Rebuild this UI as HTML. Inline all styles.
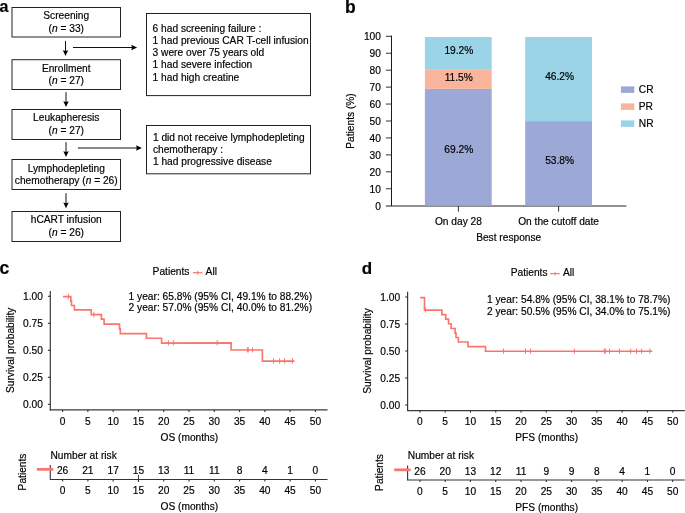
<!DOCTYPE html>
<html><head><meta charset="utf-8"><style>
html,body{margin:0;padding:0;background:#fff;}
body{width:685px;height:513px;overflow:hidden;}
svg{display:block;font-family:"Liberation Sans", sans-serif;will-change:transform;} text{fill:#000;stroke:#000;stroke-width:0.18px;font-size:10.2px;}
</style></head><body>
<svg width="685" height="513" viewBox="0 0 685 513">
<text x="-0.40" y="11.50" style="font-size:16px" font-weight="bold">a</text>
<rect x="12.00" y="7.50" width="108.50" height="29.50" fill="none" stroke="#222" stroke-width="1.0"/>
<text x="66.25" y="19.10" text-anchor="middle">Screening</text>
<text x="66.25" y="31.70" text-anchor="middle">(<tspan font-style="italic">n</tspan> = 33)</text>
<rect x="12.00" y="59.70" width="108.50" height="29.80" fill="none" stroke="#222" stroke-width="1.0"/>
<text x="66.25" y="72.00" text-anchor="middle">Enrollment</text>
<text x="66.25" y="84.20" text-anchor="middle">(<tspan font-style="italic">n</tspan> = 27)</text>
<rect x="12.00" y="109.50" width="108.50" height="30.00" fill="none" stroke="#222" stroke-width="1.0"/>
<text x="66.25" y="121.20" text-anchor="middle">Leukapheresis</text>
<text x="66.25" y="134.20" text-anchor="middle">(<tspan font-style="italic">n</tspan> = 27)</text>
<rect x="12.00" y="159.50" width="108.50" height="30.00" fill="none" stroke="#222" stroke-width="1.0"/>
<text x="66.25" y="171.60" text-anchor="middle">Lymphodepleting</text>
<text x="66.25" y="184.20" text-anchor="middle">chemotherapy (<tspan font-style="italic">n</tspan> = 26)</text>
<rect x="12.00" y="211.50" width="108.50" height="30.00" fill="none" stroke="#222" stroke-width="1.0"/>
<text x="66.25" y="223.20" text-anchor="middle">hCART infusion</text>
<text x="66.25" y="236.20" text-anchor="middle">(<tspan font-style="italic">n</tspan> = 26)</text>
<line x1="65.50" y1="40.90" x2="65.50" y2="51.30" stroke="#111" stroke-width="1"/>
<path d="M65.5,56.0 L62.8,50.199999999999996 L65.5,50.9 L68.2,50.199999999999996 Z" fill="#000"/>
<line x1="66.00" y1="92.20" x2="66.00" y2="102.30" stroke="#111" stroke-width="1"/>
<path d="M66.0,107.0 L63.3,101.2 L66.0,101.89999999999999 L68.7,101.2 Z" fill="#000"/>
<line x1="66.00" y1="142.20" x2="66.00" y2="152.30" stroke="#111" stroke-width="1"/>
<path d="M66.0,157.0 L63.3,151.20000000000002 L66.0,151.9 L68.7,151.20000000000002 Z" fill="#000"/>
<line x1="66.00" y1="193.20" x2="66.00" y2="203.60" stroke="#111" stroke-width="1"/>
<path d="M66.0,208.29999999999998 L63.3,202.5 L66.0,203.2 L68.7,202.5 Z" fill="#000"/>
<line x1="73.00" y1="47.50" x2="132.40" y2="47.50" stroke="#111" stroke-width="1"/>
<path d="M137.1,47.5 L131.3,44.8 L132.0,47.5 L131.3,50.2 Z" fill="#000"/>
<line x1="77.90" y1="148.00" x2="137.20" y2="148.00" stroke="#111" stroke-width="1"/>
<path d="M141.89999999999998,148.0 L136.1,145.3 L136.79999999999998,148.0 L136.1,150.7 Z" fill="#000"/>
<rect x="146.50" y="13.50" width="164.00" height="82.10" fill="none" stroke="#222" stroke-width="1.0"/>
<text x="152.60" y="32.00">6 had screening failure :</text>
<text x="152.60" y="44.13">1 had previous CAR T-cell infusion</text>
<text x="152.60" y="56.26">3 were over 75 years old</text>
<text x="152.60" y="68.39">1 had severe infection</text>
<text x="152.60" y="80.52">1 had high creatine</text>
<rect x="146.50" y="125.50" width="164.00" height="48.30" fill="none" stroke="#222" stroke-width="1.0"/>
<text x="152.90" y="141.10">1 did not receive lymphodepleting</text>
<text x="152.90" y="153.20">chemotherapy :</text>
<text x="152.90" y="165.30">1 had progressive disease</text>
<text x="345.10" y="12.55" style="font-size:17.5px" font-weight="bold">b</text>
<line x1="391.50" y1="35.60" x2="391.50" y2="206.00" stroke="#1a1a1a" stroke-width="1.0"/>
<text x="380.90" y="209.50" text-anchor="end">0</text>
<line x1="385.90" y1="188.76" x2="391.50" y2="188.76" stroke="#333" stroke-width="1.0"/>
<text x="380.90" y="192.56" text-anchor="end">10</text>
<line x1="385.90" y1="171.82" x2="391.50" y2="171.82" stroke="#333" stroke-width="1.0"/>
<text x="380.90" y="175.62" text-anchor="end">20</text>
<line x1="385.90" y1="154.88" x2="391.50" y2="154.88" stroke="#333" stroke-width="1.0"/>
<text x="380.90" y="158.68" text-anchor="end">30</text>
<line x1="385.90" y1="137.94" x2="391.50" y2="137.94" stroke="#333" stroke-width="1.0"/>
<text x="380.90" y="141.74" text-anchor="end">40</text>
<line x1="385.90" y1="121.00" x2="391.50" y2="121.00" stroke="#333" stroke-width="1.0"/>
<text x="380.90" y="124.80" text-anchor="end">50</text>
<line x1="385.90" y1="104.06" x2="391.50" y2="104.06" stroke="#333" stroke-width="1.0"/>
<text x="380.90" y="107.86" text-anchor="end">60</text>
<line x1="385.90" y1="87.12" x2="391.50" y2="87.12" stroke="#333" stroke-width="1.0"/>
<text x="380.90" y="90.92" text-anchor="end">70</text>
<line x1="385.90" y1="70.18" x2="391.50" y2="70.18" stroke="#333" stroke-width="1.0"/>
<text x="380.90" y="73.98" text-anchor="end">80</text>
<line x1="385.90" y1="53.24" x2="391.50" y2="53.24" stroke="#333" stroke-width="1.0"/>
<text x="380.90" y="57.04" text-anchor="end">90</text>
<line x1="385.90" y1="36.30" x2="391.50" y2="36.30" stroke="#333" stroke-width="1.0"/>
<text x="380.90" y="40.10" text-anchor="end">100</text>
<line x1="385.90" y1="206.00" x2="626.40" y2="206.00" stroke="#222" stroke-width="1.0"/>
<line x1="458.40" y1="206.00" x2="458.40" y2="211.60" stroke="#333" stroke-width="1.0"/>
<line x1="558.60" y1="206.00" x2="558.60" y2="211.60" stroke="#333" stroke-width="1.0"/>
<rect x="424.90" y="88.90" width="66.80" height="116.70" fill="#9CA8D5" stroke="none" stroke-width="1"/>
<rect x="424.90" y="69.20" width="66.80" height="19.70" fill="#F9B59B" stroke="none" stroke-width="1"/>
<rect x="424.90" y="37.00" width="66.80" height="32.20" fill="#9BD4E6" stroke="none" stroke-width="1"/>
<rect x="525.20" y="121.10" width="66.80" height="84.50" fill="#9CA8D5" stroke="none" stroke-width="1"/>
<rect x="525.20" y="37.00" width="66.80" height="84.10" fill="#9BD4E6" stroke="none" stroke-width="1"/>
<text x="458.90" y="54.20" text-anchor="middle">19.2%</text>
<text x="458.70" y="80.80" text-anchor="middle">11.5%</text>
<text x="458.80" y="153.40" text-anchor="middle">69.2%</text>
<text x="559.60" y="79.70" text-anchor="middle">46.2%</text>
<text x="559.60" y="164.10" text-anchor="middle">53.8%</text>
<rect x="620.90" y="86.40" width="13.40" height="6.50" fill="#9CA8D5" stroke="none" stroke-width="1"/>
<text x="638.80" y="93.20">CR</text>
<rect x="620.90" y="103.40" width="13.40" height="6.50" fill="#F9B59B" stroke="none" stroke-width="1"/>
<text x="638.80" y="110.20">PR</text>
<rect x="620.90" y="120.40" width="13.40" height="6.50" fill="#9BD4E6" stroke="none" stroke-width="1"/>
<text x="638.80" y="127.20">NR</text>
<text x="458.40" y="224.70" text-anchor="middle">On day 28</text>
<text x="558.60" y="224.70" text-anchor="middle">On the cutoff date</text>
<text x="508.70" y="240.50" text-anchor="middle">Best response</text>
<text transform="translate(354.3,121) rotate(-90)" font-size="10.2" text-anchor="middle" fill="#000">Patients (%)</text>
<text x="-0.60" y="274.00" style="font-size:17.5px" font-weight="bold">c</text>
<text x="152.60" y="275.20">Patients</text>
<line x1="192.80" y1="272.70" x2="202.50" y2="272.70" stroke="#F8766D" stroke-width="1.2"/>
<line x1="197.70" y1="270.90" x2="197.70" y2="274.60" stroke="#F8766D" stroke-width="1.0"/>
<text x="205.60" y="275.20">All</text>
<text x="128.60" y="299.60">1 year: 65.8% (95% CI, 49.1% to 88.2%)</text>
<text x="128.60" y="311.20">2 year: 57.0% (95% CI, 40.0% to 81.2%)</text>
<line x1="50.30" y1="291.10" x2="50.30" y2="410.40" stroke="#3a3a3a" stroke-width="1.2"/>
<line x1="49.70" y1="409.90" x2="327.50" y2="409.90" stroke="#3a3a3a" stroke-width="1.1"/>
<line x1="47.90" y1="404.30" x2="50.30" y2="404.30" stroke="#333" stroke-width="1.1"/>
<text x="42.90" y="407.90" text-anchor="end">0.00</text>
<line x1="47.90" y1="377.30" x2="50.30" y2="377.30" stroke="#333" stroke-width="1.1"/>
<text x="42.90" y="380.90" text-anchor="end">0.25</text>
<line x1="47.90" y1="350.30" x2="50.30" y2="350.30" stroke="#333" stroke-width="1.1"/>
<text x="42.90" y="353.90" text-anchor="end">0.50</text>
<line x1="47.90" y1="323.30" x2="50.30" y2="323.30" stroke="#333" stroke-width="1.1"/>
<text x="42.90" y="326.90" text-anchor="end">0.75</text>
<line x1="47.90" y1="296.30" x2="50.30" y2="296.30" stroke="#333" stroke-width="1.1"/>
<text x="42.90" y="299.90" text-anchor="end">1.00</text>
<line x1="62.60" y1="409.90" x2="62.60" y2="411.90" stroke="#333" stroke-width="1.1"/>
<text x="62.60" y="424.50" text-anchor="middle">0</text>
<line x1="87.88" y1="409.90" x2="87.88" y2="411.90" stroke="#333" stroke-width="1.1"/>
<text x="87.88" y="424.50" text-anchor="middle">5</text>
<line x1="113.16" y1="409.90" x2="113.16" y2="411.90" stroke="#333" stroke-width="1.1"/>
<text x="113.16" y="424.50" text-anchor="middle">10</text>
<line x1="138.44" y1="409.90" x2="138.44" y2="411.90" stroke="#333" stroke-width="1.1"/>
<text x="138.44" y="424.50" text-anchor="middle">15</text>
<line x1="163.72" y1="409.90" x2="163.72" y2="411.90" stroke="#333" stroke-width="1.1"/>
<text x="163.72" y="424.50" text-anchor="middle">20</text>
<line x1="189.00" y1="409.90" x2="189.00" y2="411.90" stroke="#333" stroke-width="1.1"/>
<text x="189.00" y="424.50" text-anchor="middle">25</text>
<line x1="214.28" y1="409.90" x2="214.28" y2="411.90" stroke="#333" stroke-width="1.1"/>
<text x="214.28" y="424.50" text-anchor="middle">30</text>
<line x1="239.56" y1="409.90" x2="239.56" y2="411.90" stroke="#333" stroke-width="1.1"/>
<text x="239.56" y="424.50" text-anchor="middle">35</text>
<line x1="264.84" y1="409.90" x2="264.84" y2="411.90" stroke="#333" stroke-width="1.1"/>
<text x="264.84" y="424.50" text-anchor="middle">40</text>
<line x1="290.12" y1="409.90" x2="290.12" y2="411.90" stroke="#333" stroke-width="1.1"/>
<text x="290.12" y="424.50" text-anchor="middle">45</text>
<line x1="315.40" y1="409.90" x2="315.40" y2="411.90" stroke="#333" stroke-width="1.1"/>
<text x="315.40" y="424.50" text-anchor="middle">50</text>
<text x="189.40" y="440.60" text-anchor="middle">OS (months)</text>
<text transform="translate(14.0,350.3) rotate(-90)" font-size="10.2" text-anchor="middle" fill="#000">Survival probability</text>
<polyline points="63.00,296.55 70.80,296.55 70.80,301.15 71.50,301.15 71.50,305.45 74.40,305.45 74.40,309.85 91.20,309.85 91.20,314.65 101.40,314.65 101.40,319.05 104.10,319.05 104.10,324.05 119.50,324.05 119.50,328.65 120.30,328.65 120.30,333.55 146.40,333.55 146.40,338.25 161.60,338.25 161.60,343.05 231.10,342.95 231.10,349.95 262.40,349.95 262.40,361.05 294.50,361.05" fill="none" stroke="#F8766D" stroke-width="1.65" stroke-linejoin="miter"/>
<line x1="68.40" y1="293.80" x2="68.40" y2="299.00" stroke="#F8766D" stroke-width="1.0"/>
<line x1="93.90" y1="311.90" x2="93.90" y2="317.10" stroke="#F8766D" stroke-width="1.0"/>
<line x1="168.40" y1="340.20" x2="168.40" y2="345.40" stroke="#F8766D" stroke-width="1.0"/>
<line x1="173.70" y1="340.20" x2="173.70" y2="345.40" stroke="#F8766D" stroke-width="1.0"/>
<line x1="217.20" y1="340.20" x2="217.20" y2="345.40" stroke="#F8766D" stroke-width="1.0"/>
<line x1="247.30" y1="347.20" x2="247.30" y2="352.40" stroke="#F8766D" stroke-width="1.0"/>
<line x1="248.30" y1="347.20" x2="248.30" y2="352.40" stroke="#F8766D" stroke-width="1.0"/>
<line x1="252.50" y1="347.20" x2="252.50" y2="352.40" stroke="#F8766D" stroke-width="1.0"/>
<line x1="273.50" y1="358.30" x2="273.50" y2="363.50" stroke="#F8766D" stroke-width="1.0"/>
<line x1="279.60" y1="358.30" x2="279.60" y2="363.50" stroke="#F8766D" stroke-width="1.0"/>
<line x1="284.60" y1="358.30" x2="284.60" y2="363.50" stroke="#F8766D" stroke-width="1.0"/>
<line x1="292.50" y1="358.30" x2="292.50" y2="363.50" stroke="#F8766D" stroke-width="1.0"/>
<text x="50.50" y="458.80">Number at risk</text>
<line x1="50.30" y1="464.90" x2="50.30" y2="480.00" stroke="#333" stroke-width="1.1"/>
<line x1="36.90" y1="469.35" x2="53.30" y2="469.35" stroke="#F8766D" stroke-width="2.8"/>
<line x1="50.30" y1="479.50" x2="327.50" y2="479.50" stroke="#333" stroke-width="1.1"/>
<line x1="62.60" y1="479.50" x2="62.60" y2="481.50" stroke="#333" stroke-width="1.1"/>
<text x="62.60" y="493.80" text-anchor="middle">0</text>
<text x="62.60" y="474.00" text-anchor="middle">26</text>
<line x1="87.88" y1="479.50" x2="87.88" y2="481.50" stroke="#333" stroke-width="1.1"/>
<text x="87.88" y="493.80" text-anchor="middle">5</text>
<text x="87.88" y="474.00" text-anchor="middle">21</text>
<line x1="113.16" y1="479.50" x2="113.16" y2="481.50" stroke="#333" stroke-width="1.1"/>
<text x="113.16" y="493.80" text-anchor="middle">10</text>
<text x="113.16" y="474.00" text-anchor="middle">17</text>
<line x1="138.44" y1="479.50" x2="138.44" y2="481.50" stroke="#333" stroke-width="1.1"/>
<text x="138.44" y="493.80" text-anchor="middle">15</text>
<text x="138.44" y="474.00" text-anchor="middle">15</text>
<line x1="163.72" y1="479.50" x2="163.72" y2="481.50" stroke="#333" stroke-width="1.1"/>
<text x="163.72" y="493.80" text-anchor="middle">20</text>
<text x="163.72" y="474.00" text-anchor="middle">13</text>
<line x1="189.00" y1="479.50" x2="189.00" y2="481.50" stroke="#333" stroke-width="1.1"/>
<text x="189.00" y="493.80" text-anchor="middle">25</text>
<text x="189.00" y="474.00" text-anchor="middle">11</text>
<line x1="214.28" y1="479.50" x2="214.28" y2="481.50" stroke="#333" stroke-width="1.1"/>
<text x="214.28" y="493.80" text-anchor="middle">30</text>
<text x="214.28" y="474.00" text-anchor="middle">11</text>
<line x1="239.56" y1="479.50" x2="239.56" y2="481.50" stroke="#333" stroke-width="1.1"/>
<text x="239.56" y="493.80" text-anchor="middle">35</text>
<text x="239.56" y="474.00" text-anchor="middle">8</text>
<line x1="264.84" y1="479.50" x2="264.84" y2="481.50" stroke="#333" stroke-width="1.1"/>
<text x="264.84" y="493.80" text-anchor="middle">40</text>
<text x="264.84" y="474.00" text-anchor="middle">4</text>
<line x1="290.12" y1="479.50" x2="290.12" y2="481.50" stroke="#333" stroke-width="1.1"/>
<text x="290.12" y="493.80" text-anchor="middle">45</text>
<text x="290.12" y="474.00" text-anchor="middle">1</text>
<line x1="315.40" y1="479.50" x2="315.40" y2="481.50" stroke="#333" stroke-width="1.1"/>
<text x="315.40" y="493.80" text-anchor="middle">50</text>
<text x="315.40" y="474.00" text-anchor="middle">0</text>
<line x1="138.44" y1="474.90" x2="138.44" y2="481.90" stroke="#333" stroke-width="1.0"/>
<text x="189.40" y="509.90" text-anchor="middle">OS (months)</text>
<text transform="translate(26.0,472.0) rotate(-90)" font-size="10.2" text-anchor="middle" fill="#000">Patients</text>
<text x="361.70" y="274.00" style="font-size:17.0px" font-weight="bold">d</text>
<text x="510.70" y="276.10">Patients</text>
<line x1="550.10" y1="273.60" x2="559.80" y2="273.60" stroke="#F8766D" stroke-width="1.2"/>
<line x1="555.00" y1="271.80" x2="555.00" y2="275.50" stroke="#F8766D" stroke-width="1.0"/>
<text x="562.90" y="276.10">All</text>
<text x="487.00" y="302.80">1 year: 54.8% (95% CI, 38.1% to 78.7%)</text>
<text x="487.00" y="315.20">2 year: 50.5% (95% CI, 34.0% to 75.1%)</text>
<line x1="407.60" y1="291.80" x2="407.60" y2="411.10" stroke="#3a3a3a" stroke-width="1.2"/>
<line x1="407.00" y1="410.60" x2="684.80" y2="410.60" stroke="#3a3a3a" stroke-width="1.1"/>
<line x1="405.20" y1="405.00" x2="407.60" y2="405.00" stroke="#333" stroke-width="1.1"/>
<text x="400.20" y="408.60" text-anchor="end">0.00</text>
<line x1="405.20" y1="378.00" x2="407.60" y2="378.00" stroke="#333" stroke-width="1.1"/>
<text x="400.20" y="381.60" text-anchor="end">0.25</text>
<line x1="405.20" y1="351.00" x2="407.60" y2="351.00" stroke="#333" stroke-width="1.1"/>
<text x="400.20" y="354.60" text-anchor="end">0.50</text>
<line x1="405.20" y1="324.00" x2="407.60" y2="324.00" stroke="#333" stroke-width="1.1"/>
<text x="400.20" y="327.60" text-anchor="end">0.75</text>
<line x1="405.20" y1="297.00" x2="407.60" y2="297.00" stroke="#333" stroke-width="1.1"/>
<text x="400.20" y="300.60" text-anchor="end">1.00</text>
<line x1="419.90" y1="410.60" x2="419.90" y2="412.60" stroke="#333" stroke-width="1.1"/>
<text x="419.90" y="425.20" text-anchor="middle">0</text>
<line x1="445.18" y1="410.60" x2="445.18" y2="412.60" stroke="#333" stroke-width="1.1"/>
<text x="445.18" y="425.20" text-anchor="middle">5</text>
<line x1="470.46" y1="410.60" x2="470.46" y2="412.60" stroke="#333" stroke-width="1.1"/>
<text x="470.46" y="425.20" text-anchor="middle">10</text>
<line x1="495.74" y1="410.60" x2="495.74" y2="412.60" stroke="#333" stroke-width="1.1"/>
<text x="495.74" y="425.20" text-anchor="middle">15</text>
<line x1="521.02" y1="410.60" x2="521.02" y2="412.60" stroke="#333" stroke-width="1.1"/>
<text x="521.02" y="425.20" text-anchor="middle">20</text>
<line x1="546.30" y1="410.60" x2="546.30" y2="412.60" stroke="#333" stroke-width="1.1"/>
<text x="546.30" y="425.20" text-anchor="middle">25</text>
<line x1="571.58" y1="410.60" x2="571.58" y2="412.60" stroke="#333" stroke-width="1.1"/>
<text x="571.58" y="425.20" text-anchor="middle">30</text>
<line x1="596.86" y1="410.60" x2="596.86" y2="412.60" stroke="#333" stroke-width="1.1"/>
<text x="596.86" y="425.20" text-anchor="middle">35</text>
<line x1="622.14" y1="410.60" x2="622.14" y2="412.60" stroke="#333" stroke-width="1.1"/>
<text x="622.14" y="425.20" text-anchor="middle">40</text>
<line x1="647.42" y1="410.60" x2="647.42" y2="412.60" stroke="#333" stroke-width="1.1"/>
<text x="647.42" y="425.20" text-anchor="middle">45</text>
<line x1="672.70" y1="410.60" x2="672.70" y2="412.60" stroke="#333" stroke-width="1.1"/>
<text x="672.70" y="425.20" text-anchor="middle">50</text>
<text x="546.70" y="441.30" text-anchor="middle">PFS (months)</text>
<text transform="translate(371.3,351.0) rotate(-90)" font-size="10.2" text-anchor="middle" fill="#000">Survival probability</text>
<polyline points="420.10,297.55 424.50,297.55 424.50,310.15 441.90,310.15 441.90,314.55 445.70,314.55 445.70,319.05 448.50,319.05 448.50,323.75 451.10,323.75 451.10,328.45 455.10,328.45 455.10,333.05 456.00,333.05 456.00,337.45 458.30,337.45 458.30,341.95 468.00,341.95 468.00,346.55 485.50,346.55 485.50,351.25 652.30,351.25" fill="none" stroke="#F8766D" stroke-width="1.65" stroke-linejoin="miter"/>
<line x1="425.60" y1="307.40" x2="425.60" y2="312.60" stroke="#F8766D" stroke-width="1.0"/>
<line x1="503.50" y1="348.50" x2="503.50" y2="353.70" stroke="#F8766D" stroke-width="1.0"/>
<line x1="525.50" y1="348.50" x2="525.50" y2="353.70" stroke="#F8766D" stroke-width="1.0"/>
<line x1="530.60" y1="348.50" x2="530.60" y2="353.70" stroke="#F8766D" stroke-width="1.0"/>
<line x1="574.40" y1="348.50" x2="574.40" y2="353.70" stroke="#F8766D" stroke-width="1.0"/>
<line x1="604.30" y1="348.50" x2="604.30" y2="353.70" stroke="#F8766D" stroke-width="1.0"/>
<line x1="605.30" y1="348.50" x2="605.30" y2="353.70" stroke="#F8766D" stroke-width="1.0"/>
<line x1="609.50" y1="348.50" x2="609.50" y2="353.70" stroke="#F8766D" stroke-width="1.0"/>
<line x1="619.40" y1="348.50" x2="619.40" y2="353.70" stroke="#F8766D" stroke-width="1.0"/>
<line x1="630.70" y1="348.50" x2="630.70" y2="353.70" stroke="#F8766D" stroke-width="1.0"/>
<line x1="636.60" y1="348.50" x2="636.60" y2="353.70" stroke="#F8766D" stroke-width="1.0"/>
<line x1="641.60" y1="348.50" x2="641.60" y2="353.70" stroke="#F8766D" stroke-width="1.0"/>
<line x1="649.80" y1="348.50" x2="649.80" y2="353.70" stroke="#F8766D" stroke-width="1.0"/>
<text x="407.80" y="459.30">Number at risk</text>
<line x1="407.60" y1="465.40" x2="407.60" y2="480.50" stroke="#333" stroke-width="1.1"/>
<line x1="394.20" y1="469.85" x2="410.60" y2="469.85" stroke="#F8766D" stroke-width="2.8"/>
<line x1="407.60" y1="480.00" x2="684.80" y2="480.00" stroke="#333" stroke-width="1.1"/>
<line x1="419.90" y1="480.00" x2="419.90" y2="482.00" stroke="#333" stroke-width="1.1"/>
<text x="419.90" y="494.70" text-anchor="middle">0</text>
<text x="419.90" y="474.50" text-anchor="middle">26</text>
<line x1="445.18" y1="480.00" x2="445.18" y2="482.00" stroke="#333" stroke-width="1.1"/>
<text x="445.18" y="494.70" text-anchor="middle">5</text>
<text x="445.18" y="474.50" text-anchor="middle">20</text>
<line x1="470.46" y1="480.00" x2="470.46" y2="482.00" stroke="#333" stroke-width="1.1"/>
<text x="470.46" y="494.70" text-anchor="middle">10</text>
<text x="470.46" y="474.50" text-anchor="middle">13</text>
<line x1="495.74" y1="480.00" x2="495.74" y2="482.00" stroke="#333" stroke-width="1.1"/>
<text x="495.74" y="494.70" text-anchor="middle">15</text>
<text x="495.74" y="474.50" text-anchor="middle">12</text>
<line x1="521.02" y1="480.00" x2="521.02" y2="482.00" stroke="#333" stroke-width="1.1"/>
<text x="521.02" y="494.70" text-anchor="middle">20</text>
<text x="521.02" y="474.50" text-anchor="middle">11</text>
<line x1="546.30" y1="480.00" x2="546.30" y2="482.00" stroke="#333" stroke-width="1.1"/>
<text x="546.30" y="494.70" text-anchor="middle">25</text>
<text x="546.30" y="474.50" text-anchor="middle">9</text>
<line x1="571.58" y1="480.00" x2="571.58" y2="482.00" stroke="#333" stroke-width="1.1"/>
<text x="571.58" y="494.70" text-anchor="middle">30</text>
<text x="571.58" y="474.50" text-anchor="middle">9</text>
<line x1="596.86" y1="480.00" x2="596.86" y2="482.00" stroke="#333" stroke-width="1.1"/>
<text x="596.86" y="494.70" text-anchor="middle">35</text>
<text x="596.86" y="474.50" text-anchor="middle">8</text>
<line x1="622.14" y1="480.00" x2="622.14" y2="482.00" stroke="#333" stroke-width="1.1"/>
<text x="622.14" y="494.70" text-anchor="middle">40</text>
<text x="622.14" y="474.50" text-anchor="middle">4</text>
<line x1="647.42" y1="480.00" x2="647.42" y2="482.00" stroke="#333" stroke-width="1.1"/>
<text x="647.42" y="494.70" text-anchor="middle">45</text>
<text x="647.42" y="474.50" text-anchor="middle">1</text>
<line x1="672.70" y1="480.00" x2="672.70" y2="482.00" stroke="#333" stroke-width="1.1"/>
<text x="672.70" y="494.70" text-anchor="middle">50</text>
<text x="672.70" y="474.50" text-anchor="middle">0</text>
<text x="546.70" y="510.80" text-anchor="middle">PFS (months)</text>
<text transform="translate(383.3,472.5) rotate(-90)" font-size="10.2" text-anchor="middle" fill="#000">Patients</text>
</svg>
</body></html>
